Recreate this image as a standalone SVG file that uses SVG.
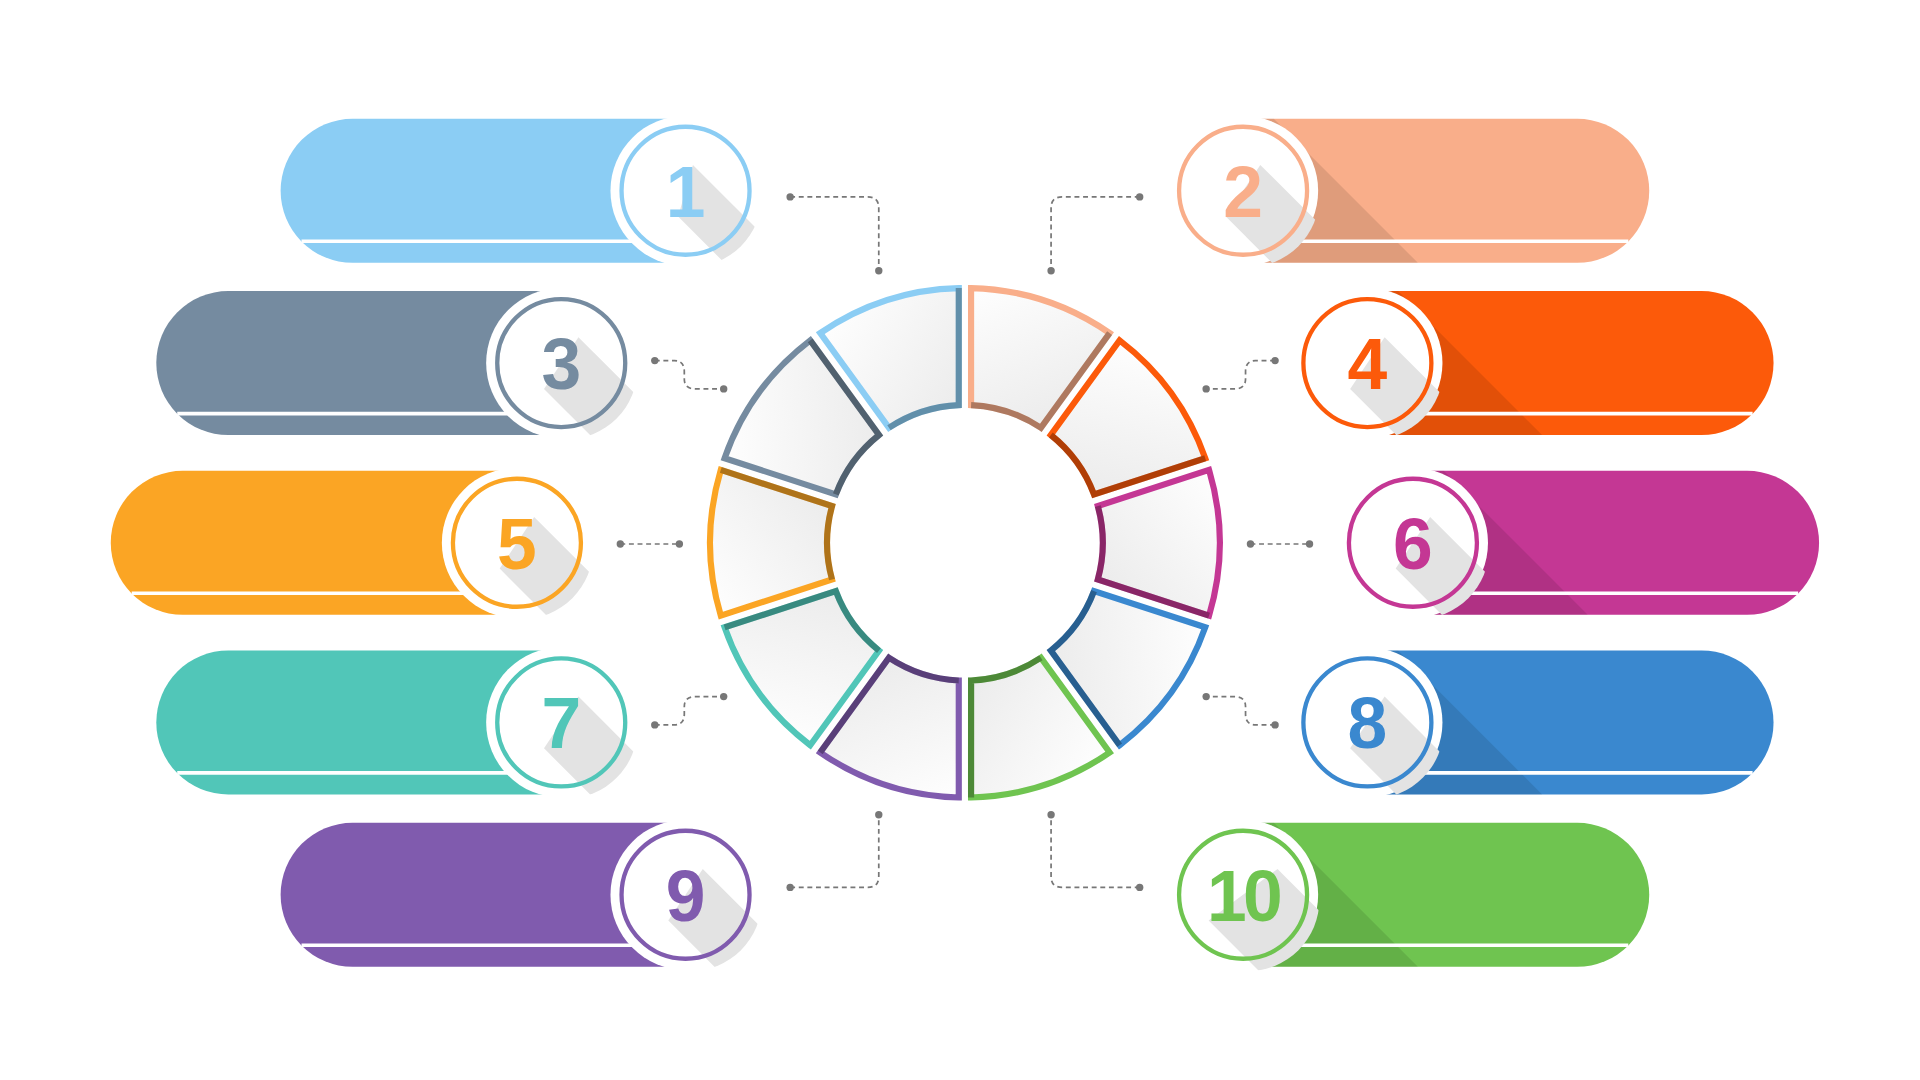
<svg xmlns="http://www.w3.org/2000/svg" xmlns:xlink="http://www.w3.org/1999/xlink" width="1920" height="1080" viewBox="0 0 1920 1080">
<defs>
<style>
.pl{fill:var(--c)}
.wl{stroke:#fff;stroke-width:3}
.halo{fill:#fff}
.ring{fill:none;stroke-width:3.5}
.sh{fill:#e3e3e3}
.num{font-family:"Liberation Sans",Arial,sans-serif;font-weight:700;font-size:58px;text-anchor:middle}
.con path{fill:none;stroke:#777;stroke-width:1.4;stroke-dasharray:4 3}
.con circle{fill:#777}
.seg{stroke-width:5;stroke-linejoin:miter}
.dk{fill:none;stroke:#000;stroke-opacity:.3;stroke-width:5}
</style>
<clipPath id="cc" clipPathUnits="userSpaceOnUse"><circle cx="4" cy="4" r="58"/></clipPath>
<linearGradient id="sf" x1="0" y1="0" x2="1" y2="1"><stop offset="0" stop-color="#ffffff"/><stop offset="1" stop-color="#e9e9e9"/></linearGradient>
<path id="seg" d="M -59.2 -198.35 A 207 207 0 0 1 59.2 -198.35 L 29.82 -107.96 A 112 112 0 0 0 -29.82 -107.96 Z"/>
<path id="dk" d="M 59.2 -198.35 L 29.82 -107.96 A 112 112 0 0 0 -29.82 -107.96"/>
</defs>
<rect width="1920" height="1080" fill="#fff"/>
<g transform="scale(1.230769)">
<g id="connectors" class="con">
<path d="M642 160 H705 Q714 160 714 169 V220"/><circle cx="642" cy="160" r="3"/><circle cx="714" cy="220" r="3"/>
<path d="M926 160 H863 Q854 160 854 169 V220"/><circle cx="926" cy="160" r="3"/><circle cx="854" cy="220" r="3"/>
<path d="M532 293 H548 Q556 293 556 302 V308 Q556 316 565 316 H588"/><circle cx="532" cy="293" r="3"/><circle cx="588" cy="316" r="3"/>
<path d="M1036 293 H1020 Q1012 293 1012 302 V308 Q1012 316 1003 316 H980"/><circle cx="1036" cy="293" r="3"/><circle cx="980" cy="316" r="3"/>
<path d="M504 442 H552"/><circle cx="504" cy="442" r="3"/><circle cx="552" cy="442" r="3"/>
<path d="M1016 442 H1064"/><circle cx="1016" cy="442" r="3"/><circle cx="1064" cy="442" r="3"/>
<path d="M532 589 H548 Q556 589 556 580 V574 Q556 566 565 566 H588"/><circle cx="532" cy="589" r="3"/><circle cx="588" cy="566" r="3"/>
<path d="M1036 589 H1020 Q1012 589 1012 580 V574 Q1012 566 1003 566 H980"/><circle cx="1036" cy="589" r="3"/><circle cx="980" cy="566" r="3"/>
<path d="M642 721 H705 Q714 721 714 712 V662"/><circle cx="642" cy="721" r="3"/><circle cx="714" cy="662" r="3"/>
<path d="M926 721 H863 Q854 721 854 712 V662"/><circle cx="926" cy="721" r="3"/><circle cx="854" cy="662" r="3"/>
</g>
<g id="wheel" transform="translate(784 441)">
<g id="s1" transform="rotate(-18)"><use href="#seg" class="seg" fill="url(#sf)" stroke="#8BCDF4"/><use href="#dk" class="dk"/></g>
<g id="s2" transform="rotate(18)"><use href="#seg" class="seg" fill="url(#sf)" stroke="#F9AE8A"/><use href="#dk" class="dk"/></g>
<g id="s4" transform="rotate(54)"><use href="#seg" class="seg" fill="url(#sf)" stroke="#FC5A0A"/><use href="#dk" class="dk"/></g>
<g id="s6" transform="rotate(90)"><use href="#seg" class="seg" fill="url(#sf)" stroke="#C43794"/><use href="#dk" class="dk"/></g>
<g id="s8" transform="rotate(126)"><use href="#seg" class="seg" fill="url(#sf)" stroke="#3A88CF"/><use href="#dk" class="dk"/></g>
<g id="s10" transform="rotate(162)"><use href="#seg" class="seg" fill="url(#sf)" stroke="#6FC450"/><use href="#dk" class="dk"/></g>
<g id="s9" transform="rotate(198)"><use href="#seg" class="seg" fill="url(#sf)" stroke="#805BAE"/><use href="#dk" class="dk"/></g>
<g id="s7" transform="rotate(234)"><use href="#seg" class="seg" fill="url(#sf)" stroke="#51C6B8"/><use href="#dk" class="dk"/></g>
<g id="s5" transform="rotate(270)"><use href="#seg" class="seg" fill="url(#sf)" stroke="#FBA524"/><use href="#dk" class="dk"/></g>
<g id="s3" transform="rotate(306)"><use href="#seg" class="seg" fill="url(#sf)" stroke="#758BA0"/><use href="#dk" class="dk"/></g>
</g>
<g id="n1" transform="translate(557 155)">
<rect x="-329" y="-58.5" width="387.5" height="117" rx="58.5" fill="#8BCDF4"/><line class="wl" x1="-312" x2="0" y1="41" y2="41"/>
<circle class="halo" r="61"/><polygon class="sh" clip-path="url(#cc)" points="6,-21 96,69 84,111 -6,21"/>
<circle class="ring" r="52" stroke="#8BCDF4"/><text class="num" y="21" fill="#8BCDF4">1</text></g>
<g id="n3" transform="translate(456 295)">
<rect x="-329" y="-58.5" width="387.5" height="117" rx="58.5" fill="#758BA0"/><line class="wl" x1="-312" x2="0" y1="41" y2="41"/>
<circle class="halo" r="61"/><polygon class="sh" clip-path="url(#cc)" points="14,-21 104,69 76,111 -14,21"/>
<circle class="ring" r="52" stroke="#758BA0"/><text class="num" y="21" fill="#758BA0">3</text></g>
<g id="n5" transform="translate(420 441)">
<rect x="-330" y="-58.5" width="388.5" height="117" rx="58.5" fill="#FBA524"/><line class="wl" x1="-313" x2="0" y1="41" y2="41"/>
<circle class="halo" r="61"/><polygon class="sh" clip-path="url(#cc)" points="14,-21 104,69 76,111 -14,21"/>
<circle class="ring" r="52" stroke="#FBA524"/><text class="num" y="21" fill="#FBA524">5</text></g>
<g id="n7" transform="translate(456 587)">
<rect x="-329" y="-58.5" width="387.5" height="117" rx="58.5" fill="#51C6B8"/><line class="wl" x1="-312" x2="0" y1="41" y2="41"/>
<circle class="halo" r="61"/><polygon class="sh" clip-path="url(#cc)" points="14,-21 104,69 76,111 -14,21"/>
<circle class="ring" r="52" stroke="#51C6B8"/><text class="num" y="21" fill="#51C6B8">7</text></g>
<g id="n9" transform="translate(557 727)">
<rect x="-329" y="-58.5" width="387.5" height="117" rx="58.5" fill="#805BAE"/><line class="wl" x1="-312" x2="0" y1="41" y2="41"/>
<circle class="halo" r="61"/><polygon class="sh" clip-path="url(#cc)" points="14,-21 104,69 76,111 -14,21"/>
<circle class="ring" r="52" stroke="#805BAE"/><text class="num" y="21" fill="#805BAE">9</text></g>
<g id="n2" transform="translate(1010 155)">
<rect x="-58.5" y="-58.5" width="388.5" height="117" rx="58.5" fill="#F9AE8A"/><polygon points="0,-58.5 25,-58.5 142,58.5 0,58.5" fill="#000" fill-opacity=".1"/><line class="wl" x1="0" x2="313" y1="41" y2="41"/>
<circle class="halo" r="61"/><polygon class="sh" clip-path="url(#cc)" points="14,-21 104,69 76,111 -14,21"/>
<circle class="ring" r="52" stroke="#F9AE8A"/><text class="num" y="21" fill="#F9AE8A">2</text></g>
<g id="n4" transform="translate(1111 295)">
<rect x="-58.5" y="-58.5" width="388.5" height="117" rx="58.5" fill="#FC5A0A"/><polygon points="0,-58.5 25,-58.5 142,58.5 0,58.5" fill="#000" fill-opacity=".1"/><line class="wl" x1="0" x2="313" y1="41" y2="41"/>
<circle class="halo" r="61"/><polygon class="sh" clip-path="url(#cc)" points="14,-21 104,69 76,111 -14,21"/>
<circle class="ring" r="52" stroke="#FC5A0A"/><text class="num" y="21" fill="#FC5A0A">4</text></g>
<g id="n6" transform="translate(1148 441)">
<rect x="-58.5" y="-58.5" width="388.5" height="117" rx="58.5" fill="#C43794"/><polygon points="0,-58.5 25,-58.5 142,58.5 0,58.5" fill="#000" fill-opacity=".1"/><line class="wl" x1="0" x2="313" y1="41" y2="41"/>
<circle class="halo" r="61"/><polygon class="sh" clip-path="url(#cc)" points="14,-21 104,69 76,111 -14,21"/>
<circle class="ring" r="52" stroke="#C43794"/><text class="num" y="21" fill="#C43794">6</text></g>
<g id="n8" transform="translate(1111 587)">
<rect x="-58.5" y="-58.5" width="388.5" height="117" rx="58.5" fill="#3A88CF"/><polygon points="0,-58.5 25,-58.5 142,58.5 0,58.5" fill="#000" fill-opacity=".1"/><line class="wl" x1="0" x2="313" y1="41" y2="41"/>
<circle class="halo" r="61"/><polygon class="sh" clip-path="url(#cc)" points="14,-21 104,69 76,111 -14,21"/>
<circle class="ring" r="52" stroke="#3A88CF"/><text class="num" y="21" fill="#3A88CF">8</text></g>
<g id="n10" transform="translate(1010 727)">
<rect x="-58.5" y="-58.5" width="388.5" height="117" rx="58.5" fill="#6FC450"/><polygon points="0,-58.5 25,-58.5 142,58.5 0,58.5" fill="#000" fill-opacity=".1"/><line class="wl" x1="0" x2="313" y1="41" y2="41"/>
<circle class="halo" r="61"/><polygon class="sh" clip-path="url(#cc)" points="28,-21 118,69 62,111 -28,21"/>
<circle class="ring" r="52" stroke="#6FC450"/><text class="num" y="21" fill="#6FC450" style="letter-spacing:-3px">10</text></g>
</g>
</svg>
